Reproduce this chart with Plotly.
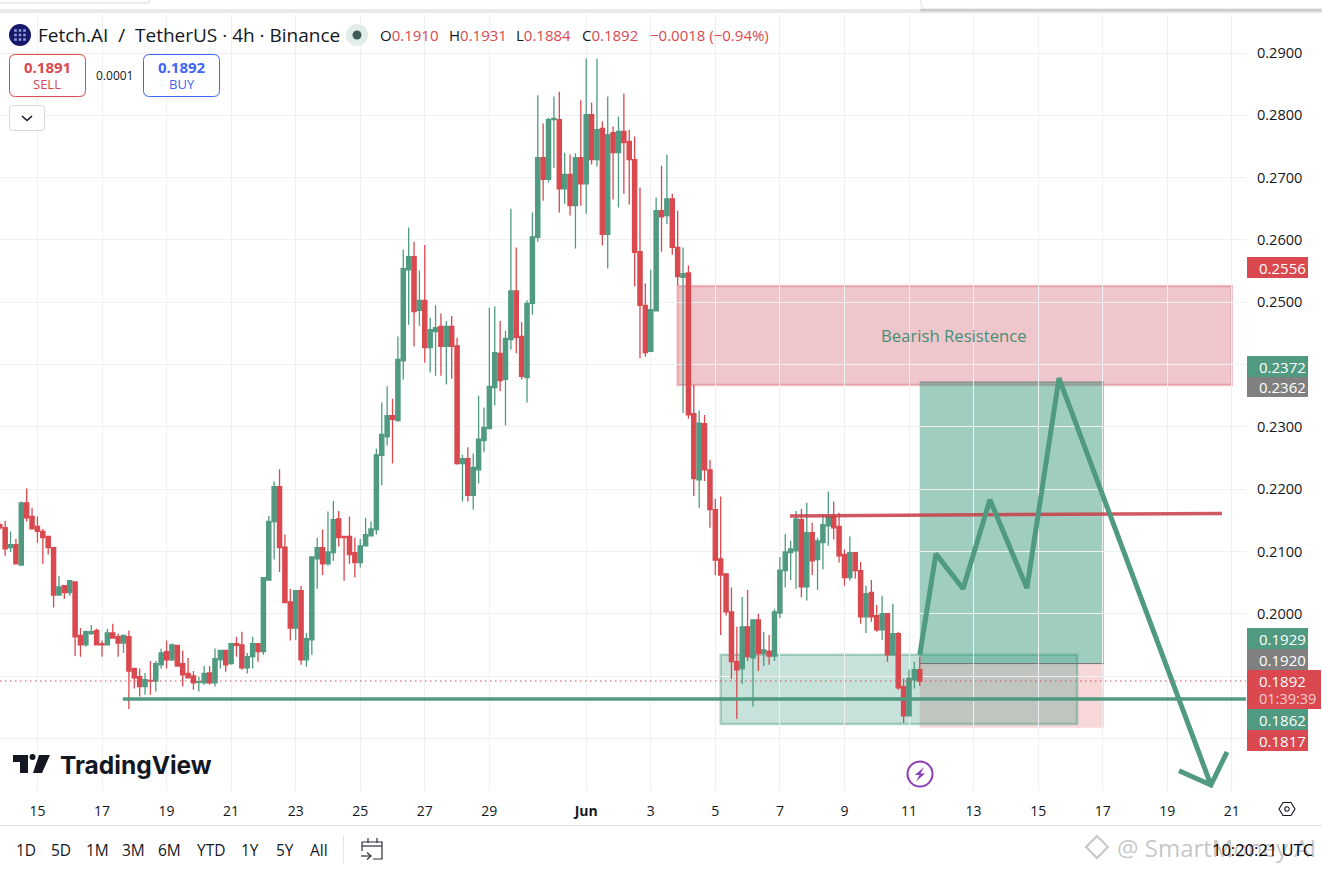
import plotly.graph_objects as go
from datetime import datetime, timedelta

W, H = 1322, 871
GREEN = "#509a82"
RED = "#d9494f"
BLUE = "#3d66f5"
INK = "#131722"
FONT = "Open Sans"

# 4h candles, first one opens 13 May 20:00
first_candle = datetime(2024, 5, 13, 20, 0)
opens = [
 .2143,.2138,.2106,.2111,.2078,.2178,.2156,.2140,.2132,.2124,.2106,.2030,.2045,.2034,.2051,.1965,.1950,.1968,.1973,.1952,
 .1950,.1969,.1963,.1953,.1963,.1912,.1899,.1883,.1893,.1892,.1918,.1939,.1926,.1949,.1920,.1904,.1900,.1890,.1889,.1905,
 .1889,.1926,.1941,.1920,.1952,.1950,.1913,.1931,.1952,.1939,.2054,.2148,.2204,.2107,.2019,.1977,.2037,.1926,.1958,.2088,
 .2106,.2080,.2098,.2152,.2124,.2124,.2098,.2082,.2109,.2125,.2135,.2254,.2284,.2318,.2310,.2406,.2552,.2573,.2487,.2503,
 .2427,.2453,.2461,.2429,.2461,.2430,.2241,.2249,.2190,.2231,.2278,.2297,.2363,.2418,.2376,.2440,.2518,.2445,.2379,.2498,
 .2604,.2732,.2697,.2793,.2793,.2682,.2705,.2655,.2732,.2690,.2801,.2729,.2779,.2609,.2772,.2740,.2774,.2758,.2729,.2581,
 .2495,.2421,.2486,.2647,.2639,.2666,.2588,.2540,.2547,.2321,.2215,.2305,.2231,.2167,.2088,.2064,.2003,.1923,.1912,.1979,
 .1929,.1990,.1936,.1940,.1932,.2001,.2069,.2098,.2101,.2151,.2043,.2130,.2087,.2114,.2141,.2156,.2140,.2095,.2058,.2098,
 .2069,.1995,.2034,.1997,.1974,.2000,.1934,.1968,.1883,.1836,.1894,.1910]
highs = [
 .2146,.2149,.2132,.2120,.2180,.2201,.2170,.2156,.2136,.2124,.2106,.2061,.2046,.2054,.2051,.1977,.1973,.1982,.1976,.1957,
 .1976,.1984,.1968,.1966,.1973,.1912,.1912,.1905,.1924,.1924,.1944,.1957,.1952,.1950,.1941,.1929,.1908,.1899,.1916,.1916,
 .1944,.1941,.1941,.1952,.1963,.1971,.1937,.1963,.1952,.2058,.2157,.2212,.2232,.2127,.2040,.2037,.2045,.1969,.2091,.2122,
 .2135,.2164,.2181,.2165,.2125,.2156,.2122,.2120,.2154,.2148,.2265,.2339,.2365,.2345,.2445,.2584,.2620,.2597,.2551,.2592,
 .2475,.2495,.2482,.2470,.2478,.2443,.2255,.2267,.2257,.2350,.2331,.2491,.2493,.2470,.2454,.2650,.2588,.2468,.2503,.2644,
 .2832,.2787,.2796,.2830,.2838,.2740,.2737,.2739,.2824,.2891,.2820,.2891,.2790,.2830,.2782,.2798,.2835,.2777,.2766,.2684,
 .2530,.2552,.2668,.2719,.2737,.2674,.2647,.2588,.2559,.2367,.2326,.2319,.2247,.2184,.2188,.2064,.2042,.1979,.2027,.2038,
 .1990,.2000,.1971,.1966,.2008,.2091,.2128,.2117,.2165,.2168,.2178,.2146,.2122,.2160,.2196,.2180,.2162,.2103,.2124,.2099,
 .2083,.2045,.2054,.2014,.2029,.2000,.2016,.1971,.1896,.1910,.1923,.1931]
lows = [
 .2135,.2093,.2099,.2080,.2078,.2148,.2135,.2114,.2080,.2095,.2010,.2029,.2024,.2029,.1932,.1931,.1947,.1966,.1950,.1931,
 .1949,.1960,.1931,.1937,.1847,.1880,.1867,.1870,.1870,.1875,.1912,.1912,.1924,.1915,.1883,.1896,.1878,.1875,.1886,.1886,
 .1883,.1912,.1907,.1918,.1931,.1910,.1904,.1912,.1923,.1934,.2053,.2087,.2067,.2018,.1957,.1958,.1918,.1915,.1934,.2040,
 .2062,.2077,.2085,.2108,.2053,.2080,.2058,.2074,.2108,.2125,.2127,.2206,.2270,.2241,.2308,.2376,.2464,.2429,.2462,.2403,
 .2387,.2382,.2382,.2368,.2377,.2239,.2180,.2180,.2167,.2209,.2259,.2296,.2334,.2357,.2302,.2424,.2418,.2376,.2339,.2480,
 .2597,.2663,.2692,.2716,.2644,.2658,.2639,.2586,.2655,.2642,.2721,.2718,.2591,.2554,.2665,.2652,.2674,.2657,.2525,.2410,
 .2413,.2421,.2486,.2581,.2625,.2576,.2527,.2322,.2313,.2189,.2170,.2213,.2138,.2062,.1966,.1997,.1895,.1831,.1887,.1924,
 .1851,.1908,.1916,.1918,.1924,.1993,.2042,.2054,.2040,.2026,.2021,.2062,.2038,.2071,.2109,.2119,.2082,.2045,.2053,.2056,
 .1984,.1969,.1987,.1971,.1958,.1923,.1934,.1878,.1825,.1835,.1880,.1884]
closes = [
 .2138,.2104,.2111,.2080,.2178,.2154,.2136,.2132,.2122,.2106,.2030,.2043,.2034,.2053,.1963,.1950,.1971,.1971,.1950,.1950,
 .1969,.1961,.1953,.1965,.1908,.1897,.1883,.1894,.1892,.1920,.1937,.1926,.1950,.1916,.1902,.1897,.1889,.1891,.1904,.1889,
 .1928,.1941,.1918,.1952,.1949,.1913,.1931,.1952,.1939,.2058,.2148,.2204,.2106,.2018,.1977,.2037,.1926,.1960,.2091,.2106,
 .2080,.2099,.2151,.2122,.2122,.2095,.2082,.2109,.2127,.2136,.2255,.2288,.2318,.2312,.2408,.2554,.2573,.2485,.2503,.2427,
 .2456,.2459,.2429,.2461,.2429,.2241,.2249,.2190,.2235,.2280,.2299,.2365,.2419,.2374,.2442,.2518,.2443,.2381,.2498,.2605,
 .2732,.2697,.2793,.2795,.2682,.2705,.2655,.2732,.2690,.2801,.2729,.2777,.2609,.2769,.2740,.2774,.2756,.2729,.2580,.2495,
 .2419,.2488,.2647,.2637,.2666,.2588,.2541,.2546,.2319,.2217,.2306,.2231,.2167,.2086,.2062,.2003,.1923,.1910,.1979,.1931,
 .1990,.1936,.1942,.1932,.2003,.2070,.2099,.2104,.2152,.2043,.2130,.2085,.2117,.2143,.2156,.2138,.2093,.2058,.2098,.2069,
 .1995,.2032,.1995,.1974,.2000,.1934,.1968,.1881,.1836,.1896,.1910,.1892]

price_ticks = [.29,.28,.27,.26,.25,.24,.23,.22,.21,.20,.19,.18]
price_tick_labels = ["0.2900","0.2800","0.2700","0.2600","0.2500","","0.2300","0.2200","0.2100","0.2000","",""]
date_ticks = ["2024-05-15","2024-05-17","2024-05-19","2024-05-21","2024-05-23","2024-05-25","2024-05-27","2024-05-29",
              "2024-06-01","2024-06-03","2024-06-05","2024-06-07","2024-06-09","2024-06-11","2024-06-13","2024-06-15",
              "2024-06-17","2024-06-19","2024-06-21"]
date_tick_labels = ["15","17","19","21","23","25","27","29","<b>Jun</b>","3","5","7","9","11","13","15","17","19","21"]

zigzag_t = ["2024-06-11 08:00","2024-06-11 20:00","2024-06-12 16:10","2024-06-13 12:10","2024-06-14 15:40","2024-06-15 15:30",
            "2024-06-20 08:30","2024-06-19 08:45","2024-06-20 08:30","2024-06-20 20:25"]
zigzag_p = [.1934,.2096,.2040,.2183,.2041,.2378,.1725,.1748,.1725,.1778]

support_t = ["2024-05-17 15:30","2024-06-21 10:30"]
support_p = [.1863,.1863]
resist_t = ["2024-06-07 07:30","2024-06-20 16:40"]
resist_p = [.2157,.2161]
last_price = .1892

tags = [("0.2556",257,278,RED),("0.2372",356,377,GREEN),("0.2362",377,397,"#808080"),
        ("0.1929",628,649,GREEN),("0.1920",649,670,"#808080"),
        ("0.1862",709,730,GREEN),("0.1817",730,751,RED)]
ranges = [("1D",26),("5D",61),("1M",97),("3M",133),("6M",169),("YTD",211),("1Y",250),("5Y",285),("All",319)]
ohlc_parts = [("O",378,"0.1910"),("H",447,"0.1931"),("L",514,"0.1884"),("C",580,"0.1892")]

times = [first_candle + timedelta(hours=4*i) for i in range(len(opens))]

def X(px): return px / W
def Y(py): return 1 - py / H

PLOT_R, PLOT_T, PLOT_B = 1246, 14, 791
PX_PER_UNIT = 6230.0
y_top = .29 + (53 - PLOT_T) / PX_PER_UNIT
y_bot = .29 - (PLOT_B - 53) / PX_PER_UNIT

fig = go.Figure()
fig.add_trace(go.Candlestick(
    x=times, open=opens, high=highs, low=lows, close=closes,
    increasing=dict(line=dict(color=GREEN, width=1.3), fillcolor=GREEN),
    decreasing=dict(line=dict(color=RED, width=1.3), fillcolor=RED),
    whiskerwidth=0, showlegend=False, hoverinfo="skip"))
fig.add_trace(go.Scatter(x=support_t, y=support_p, mode="lines", line=dict(color=GREEN, width=3.5), showlegend=False, hoverinfo="skip"))
fig.add_trace(go.Scatter(x=resist_t, y=resist_p, mode="lines", line=dict(color="rgba(200,60,70,0.85)", width=3.5), showlegend=False, hoverinfo="skip"))
fig.add_trace(go.Scatter(x=zigzag_t, y=zigzag_p, mode="lines",
                         line=dict(color=GREEN, width=5), showlegend=False, hoverinfo="skip"))

shapes = []
def data_rect(t0, t1, p0, p1, fill, line=None, lw=0, layer="below"):
    shapes.append(dict(type="rect", xref="x", yref="y", x0=t0, x1=t1, y0=p0, y1=p1, fillcolor=fill,
                       line=dict(color=line or "rgba(0,0,0,0)", width=lw), layer=layer))
def paper_rect(x0, y0, x1, y1, fill, line=None, lw=0, layer="above"):
    shapes.append(dict(type="rect", xref="paper", yref="paper", x0=X(x0), x1=X(x1), y0=Y(y1), y1=Y(y0), fillcolor=fill,
                       line=dict(color=line or "rgba(0,0,0,0)", width=lw), layer=layer))
def paper_path(points, fill=None, line=None, lw=0, close=True):
    d = "M" + " L".join(f"{X(a):.5f},{Y(b):.5f}" for a, b in points) + (" Z" if close else "")
    shapes.append(dict(type="path", xref="paper", yref="paper", path=d, fillcolor=fill or "rgba(0,0,0,0)",
                       line=dict(color=line or "rgba(0,0,0,0)", width=lw), layer="above"))
def paper_round(x0, y0, x1, y1, r, line, lw=1, fill="white"):
    d = (f"M{X(x0+r):.5f},{Y(y0):.5f} L{X(x1-r):.5f},{Y(y0):.5f} Q{X(x1):.5f},{Y(y0):.5f} {X(x1):.5f},{Y(y0+r):.5f} "
         f"L{X(x1):.5f},{Y(y1-r):.5f} Q{X(x1):.5f},{Y(y1):.5f} {X(x1-r):.5f},{Y(y1):.5f} "
         f"L{X(x0+r):.5f},{Y(y1):.5f} Q{X(x0):.5f},{Y(y1):.5f} {X(x0):.5f},{Y(y1-r):.5f} "
         f"L{X(x0):.5f},{Y(y0+r):.5f} Q{X(x0):.5f},{Y(y0):.5f} {X(x0+r):.5f},{Y(y0):.5f} Z")
    shapes.append(dict(type="path", xref="paper", yref="paper", path=d, fillcolor=fill,
                       line=dict(color=line, width=lw), layer="above"))
def paper_circle(cx, cy, r, fill=None, line=None, lw=0):
    shapes.append(dict(type="circle", xref="paper", yref="paper", x0=X(cx-r), x1=X(cx+r), y0=Y(cy+r), y1=Y(cy-r),
                       fillcolor=fill or "rgba(0,0,0,0)", line=dict(color=line or "rgba(0,0,0,0)", width=lw), layer="above"))

# drawings under the candles
data_rect("2024-06-03 20:00","2024-06-21 00:00",.2367,.2526,"rgba(200,60,80,0.29)","rgba(205,60,75,0.30)",2.5)
data_rect("2024-06-11 08:00","2024-06-17 01:00",.1920,.2372,"rgba(70,160,135,0.52)")
data_rect("2024-06-11 08:00","2024-06-17 01:00",.1817,.1920,"rgba(217,73,79,0.22)")
data_rect("2024-06-05 04:00","2024-06-16 05:00",.1823,.1934,"rgba(70,160,135,0.31)","rgba(70,150,125,0.40)",2.5)
data_rect("2024-06-11 08:00","2024-06-17 01:00",.1920,.1920,"rgba(0,0,0,0)","rgba(110,110,110,0.7)",1)
data_rect("2024-06-11 08:00","2024-06-17 01:00",.2372,.2372,"rgba(0,0,0,0)","rgba(110,110,110,0.55)",1.5)
shapes.append(dict(type="line", xref="paper", yref="y", x0=0, x1=X(PLOT_R), y0=last_price, y1=last_price,
                   line=dict(color=RED, width=1.2, dash="1.5px,3.5px"), layer="above"))

# page chrome
paper_rect(0, 9, 920, 13, "#e9e9e9")
paper_rect(920, 9, W, 11, "#c6c6c6")
paper_rect(920, 11, W, 13, "#e2e2e2")
paper_round(-5, -8, 150, 3, 3, "#d8d8d8", 1)
paper_round(921, -8, W+10, 9, 5, "#e0e0e0", 1)
paper_rect(0, 825, W, 826, "#e2e3e6")
paper_rect(343, 836, 344, 864, "#e2e3e6")

# header
paper_circle(20, 35, 11, fill="#17176b")
for gx in (15.5, 20, 24.5):
    for gy in (30.5, 35, 39.5):
        paper_rect(gx-1.3, gy-1.3, gx+1.3, gy+1.3, "#8f9ad8")
paper_circle(357, 35, 11, fill="#e2ece9")
paper_circle(357, 35, 4.5, fill="#3e5c55")
paper_round(9.5, 54.5, 85.5, 96.5, 6, RED, 1)
paper_round(143.5, 54.5, 219.5, 96.5, 6, BLUE, 1)
paper_round(9.5, 105.5, 44.5, 130.5, 3, "#d7d8db", 1)
paper_path([(22,116),(27,120.5),(32,116)], line=INK, lw=1.6, close=False)

# TradingView logo
paper_path([(13,755),(28,755),(28,773),(20,773),(20,762),(13,762)], fill=INK)
paper_circle(32.5, 757, 3, fill=INK)
paper_path([(39,755),(50,755),(42,773),(33,773)], fill=INK)

# price axis settings icon
paper_path([(1279,809),(1283,802.5),(1291,802.5),(1295,809),(1291,815.5),(1283,815.5)], line=INK, lw=1.1)
paper_circle(1287, 809, 2.2, line=INK, lw=1.1)

# lightning badge
paper_circle(920, 774, 12.5, line="#8e3cb5", lw=2)
paper_path([(924,767),(915,775),(919.5,775),(916,781.5),(925,773.5),(920.5,773.5)], fill="#8e3cb5")

# calendar icon
paper_path([(382,852),(382,842),(362,842),(362,851)], line="#2a2e39", lw=1.2, close=False)
paper_path([(362,846),(382,846)], line="#2a2e39", lw=1.2, close=False)
paper_path([(368,838),(368,843)], line="#2a2e39", lw=1.2, close=False)
paper_path([(377,838),(377,843)], line="#2a2e39", lw=1.2, close=False)
paper_path([(382,852),(382,859),(373,859)], line="#2a2e39", lw=1.2, close=False)
paper_path([(361,856),(371,856)], line="#2a2e39", lw=1.2, close=False)
paper_path([(367,852.5),(371,856),(367,859.5)], line="#2a2e39", lw=1.2, close=False)

# price tags
for txt, y0, y1, col in tags:
    paper_rect(1247, y0, 1308, y1, col)
paper_rect(1247, 670, 1321, 709, RED)

ann = []
def text(px, py, s, size, color=INK, anchor="left", family=FONT):
    ann.append(dict(xref="paper", yref="paper", x=X(px), y=Y(py), text=s, showarrow=False, xanchor=anchor, yanchor="middle",
                    font=dict(size=size, color=color, family=family), align=anchor))

text(36, 35, "Fetch.AI\u00a0\u00a0/\u00a0\u00a0TetherUS · 4h · Binance", 19)
for letter, px, val in ohlc_parts:
    text(px, 35, f'{letter}<span style="color:{RED}">{val}</span>', 15)
text(648, 35, "−0.0018\u00a0(−0.94%)", 15, RED)
text(47.5, 67, "<b>0.1891</b>", 15, RED, "center")
text(47.5, 84, "SELL", 13, RED, "center")
text(114.5, 75, "0.0001", 12, INK, "center")
text(181.5, 67, "<b>0.1892</b>", 15, BLUE, "center")
text(181.5, 84, "BUY", 13, BLUE, "center")
text(58, 765, "<b>TradingView</b>", 24.5, INK, family="Inter")
for s, cx in ranges:
    text(cx, 850, s, 15.5, INK, "center")
text(1115, 847, "@ SmartMoney AI", 24, "rgba(150,150,150,0.55)")
paper_path([(1097,836),(1108,847),(1097,858),(1086,847)], line="rgba(150,150,150,0.55)", lw=2)
text(1210, 849, "10:20:21 UTC", 16.5, "#000000")
for txt, y0, y1, col in tags:
    text(1257, (y0+y1)/2, txt, 15, "white")
text(1257, 681, "0.1892", 15, "white")
text(1257, 698.5, "01:39:39", 14.5, "#f6cdd0")
ann.append(dict(xref="x", yref="y", x="2024-06-12 09:40", y=.2447, text="Bearish Resistence", showarrow=False,
                font=dict(size=16.7, color="#458f78", family=FONT), xanchor="center", yanchor="middle"))

fig.update_layout(
    width=W, height=H, margin=dict(l=0, r=0, t=0, b=0), paper_bgcolor="white", plot_bgcolor="white",
    font=dict(family=FONT, color=INK), showlegend=False, shapes=shapes, annotations=ann,
    boxgap=0.22, boxgroupgap=0, hovermode=False,
    xaxis=dict(domain=[0, PLOT_R/W], range=["2024-05-13 20:10", "2024-06-21 10:33"], type="date",
               tickmode="array", tickvals=date_ticks, ticktext=date_tick_labels,
               showgrid=True, gridcolor="#eff0f1", gridwidth=1.4, zeroline=False, showline=False,
               ticks="outside", ticklen=7, tickcolor="rgba(0,0,0,0)", tickfont=dict(size=14, color=INK, family=FONT),
               rangeslider=dict(visible=False), automargin=False, tickangle=0),
    yaxis=dict(domain=[1-PLOT_B/H, 1-PLOT_T/H], range=[y_bot, y_top], side="right",
               tickmode="array", tickvals=price_ticks, ticktext=price_tick_labels,
               showgrid=True, gridcolor="#eff0f1", gridwidth=1.4, zeroline=False, showline=False,
               ticks="outside", ticklen=7, tickcolor="rgba(0,0,0,0)", tickfont=dict(size=14.6, color=INK, family=FONT),
               automargin=False),
)

fig.write_html("out.html", config=dict(displayModeBar=False),
               post_script="document.body.style.margin='0';document.body.style.overflow='hidden';")
